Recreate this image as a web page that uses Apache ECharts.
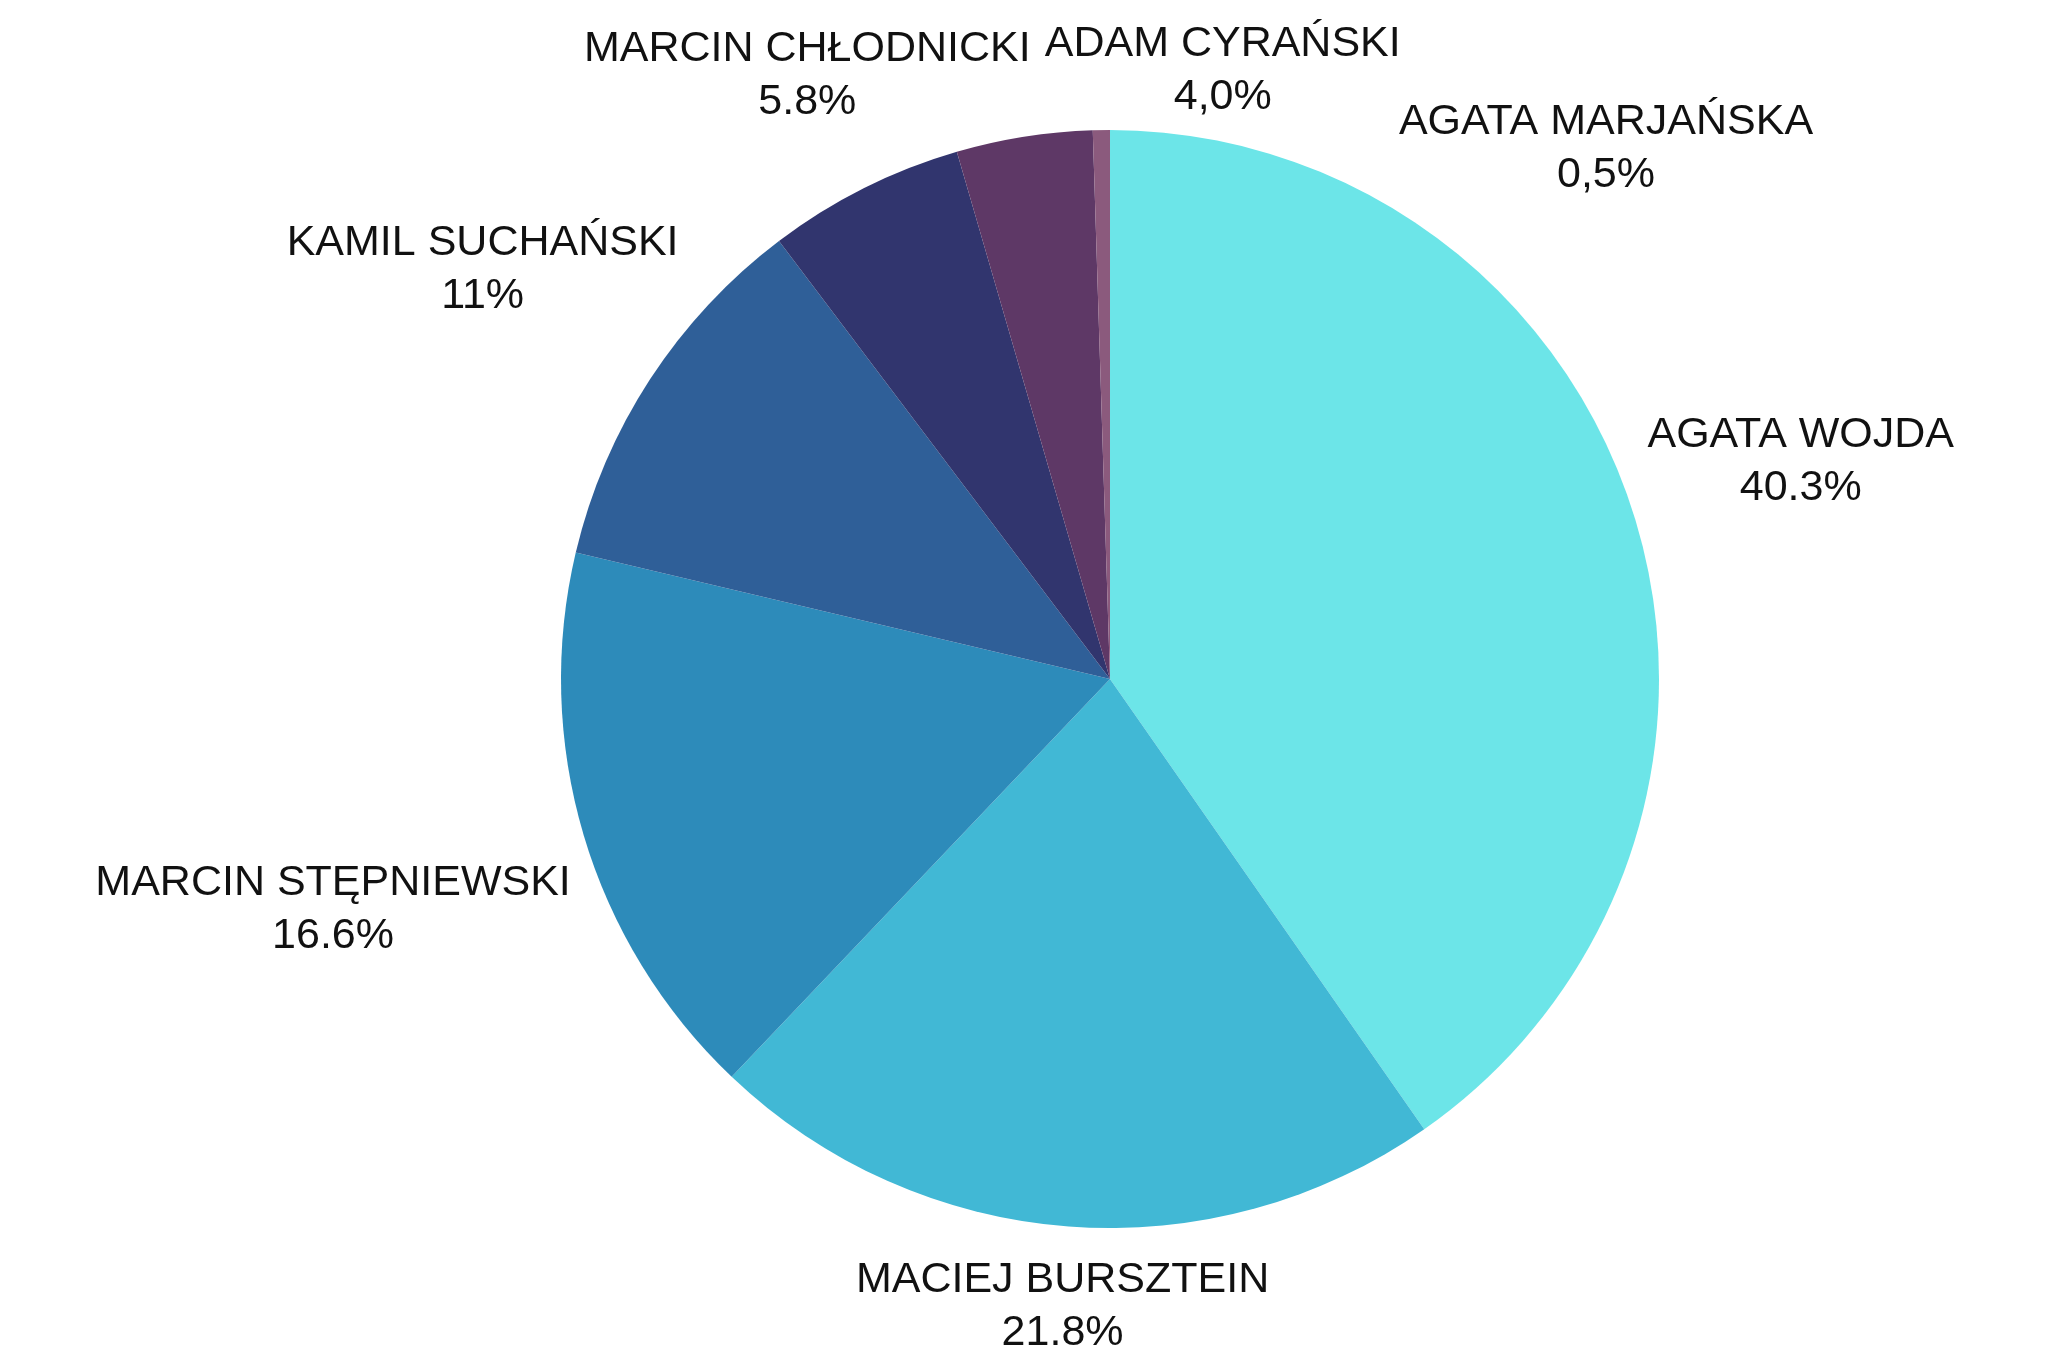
<!DOCTYPE html>
<html>
<head>
<meta charset="utf-8">
<script src="https://cdn.jsdelivr.net/npm/echarts@6/dist/echarts.min.js"></script>
<style>
  html, body { margin: 0; padding: 0; background: #ffffff; }
  #chart { width: 2048px; height: 1365px; }
</style>
</head>
<body>
<div id="chart"></div>
<script>
// ---- Data ----
const names = ['AGATA WOJDA', 'MACIEJ BURSZTEIN', 'MARCIN STĘPNIEWSKI', 'KAMIL SUCHAŃSKI', 'MARCIN CHŁODNICKI', 'ADAM CYRAŃSKI', 'AGATA MARJAŃSKA'];
const values = [40.3, 21.8, 16.6, 11, 5.8, 4.0, 0.5];
const valueLabels = ['40.3%', '21.8%', '16.6%', '11%', '5.8%', '4,0%', '0,5%'];
const colors = ['#6ce5e8', '#41b8d5', '#2d8bba', '#2f5f98', '#31356e', '#5e3866', '#8b5a7d'];

// ---- Geometry / style ----
const CX = 1110, CY = 679, R = 549;
const FONT_SIZE = 43, LINE_H = 53, FONT_FAMILY = '"Liberation Sans", Arial, sans-serif';
const GAP_MEAN = 16, GAP_VAR = 10, PAD_X = 14, PAD_Y = -28;

const measureCtx = document.createElement('canvas').getContext('2d');
function textWidth(t) {
  measureCtx.font = FONT_SIZE + 'px ' + FONT_FAMILY;
  return measureCtx.measureText(t).width;
}
function boxAt(theta, w, h, dist) {
  const ux = Math.sin(theta), uy = -Math.cos(theta);
  const cx = CX + ux * dist, cy = CY + uy * dist;
  return { x: cx - w / 2, y: cy - h / 2, w: w, h: h, cx: cx, cy: cy };
}
function nearestDist(b) {
  const dx = Math.max(b.x - CX, 0, CX - (b.x + b.w));
  const dy = Math.max(b.y - CY, 0, CY - (b.y + b.h));
  return Math.hypot(dx, dy);
}
function place(theta, w, h) {
  const gap = GAP_MEAN - GAP_VAR * Math.cos(theta);
  let lo = 0, hi = 3000;
  for (let k = 0; k < 60; k++) {
    const mid = (lo + hi) / 2;
    if (nearestDist(boxAt(theta, w, h, mid)) < R + gap) lo = mid; else hi = mid;
  }
  return boxAt(theta, w, h, hi);
}
function overlaps(a, b) {
  return a.x < b.x + b.w + PAD_X && b.x < a.x + a.w + PAD_X &&
         a.y < b.y + b.h + PAD_Y && b.y < a.y + a.h + PAD_Y;
}
let layoutCache = null;
function computeLayout() {
  const total = values.reduce((s, v) => s + v, 0);
  const placed = [];
  let acc = 0;
  for (let i = 0; i < values.length; i++) {
    const mid = (acc + values[i] / 2) / total * Math.PI * 2;
    acc += values[i];
    const w = Math.max(textWidth(names[i]), textWidth(valueLabels[i]));
    const h = LINE_H * 2;
    let theta = mid;
    let b = place(theta, w, h);
    let guard = 0;
    while (placed.some(p => overlaps(p, b)) && guard < 720) {
      theta += Math.PI / 720;
      b = place(theta, w, h);
      guard++;
    }
    placed.push(b);
  }
  return placed;
}

const chart = echarts.init(document.getElementById('chart'), null, { renderer: 'canvas' });
chart.setOption({
  animation: false,
  backgroundColor: '#ffffff',
  series: [{
    type: 'pie',
    center: [CX, CY],
    radius: R,
    startAngle: 90,
    clockwise: true,
    avoidLabelOverlap: false,
    silent: true,
    emphasis: { disabled: true },
    itemStyle: { borderWidth: 0 },
    label: {
      show: true,
      position: 'outside',
      color: '#111111',
      fontFamily: FONT_FAMILY,
      fontSize: FONT_SIZE,
      lineHeight: LINE_H,
      overflow: 'none',
      formatter: p => p.name + '\n' + valueLabels[p.dataIndex]
    },
    labelLine: { show: false },
    labelLayout: function (params) {
      if (!layoutCache) layoutCache = computeLayout();
      const b = layoutCache[params.dataIndex];
      return { x: b.cx, y: b.cy, align: 'center', verticalAlign: 'middle' };
    },
    data: names.map((n, i) => ({ name: n, value: values[i], itemStyle: { color: colors[i] } }))
  }]
});
</script>
</body>
</html>
